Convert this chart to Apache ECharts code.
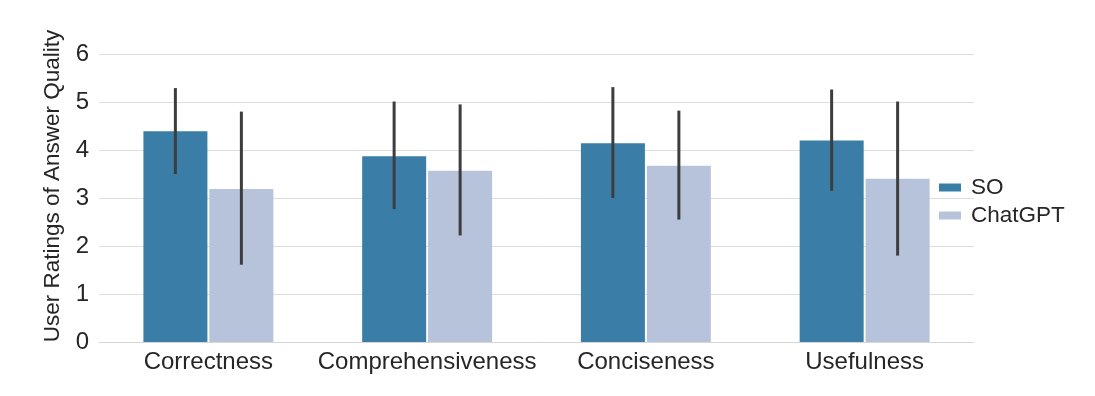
<!DOCTYPE html>
<html>
<head>
<meta charset="utf-8">
<script src="https://cdn.jsdelivr.net/npm/echarts@6/dist/echarts.min.js"></script>
<style>
  html, body { margin: 0; padding: 0; background: #fff; }
  #chart { width: 1095px; height: 396px; }
</style>
</head>
<body>
<div id="chart"></div>
<script>
// categories and values
const categories = ['Correctness', 'Comprehensiveness', 'Conciseness', 'Usefulness']
const soMean = [4.39, 3.87, 4.14, 4.20]
const soLow = [3.50, 2.77, 3.00, 3.15]
const soHigh = [5.29, 5.01, 5.31, 5.26]
const gptMean = [3.19, 3.57, 3.67, 3.40]
const gptLow = [1.61, 2.22, 2.55, 1.80]
const gptHigh = [4.80, 4.95, 4.82, 5.01]

const BAR_W = 64
const fontFamily = '"Liberation Sans", Arial, sans-serif'

// error bar rows: [categoryIndex, low, high]
const soErr = categories.map((c, i) => [i, soLow[i], soHigh[i]])
const gptErr = categories.map((c, i) => [i, gptLow[i], gptHigh[i]])

function errRender(offset) {
  return function (params, api) {
    const lo = api.coord([api.value(0), api.value(1)])
    const hi = api.coord([api.value(0), api.value(2)])
    const x = lo[0] + offset
    return {
      type: 'line',
      shape: { x1: x, y1: lo[1], x2: x, y2: hi[1] },
      style: { stroke: '#3d3d3d', lineWidth: 3 }
    }
  }
}

const chart = echarts.init(document.getElementById('chart'))
const option = {
  animation: false,
  textStyle: { fontFamily: fontFamily },
  grid: { left: 99, right: 121, top: 54, bottom: 54 },
  legend: {
    orient: 'vertical',
    left: 939,
    top: 176,
    padding: 0,
    itemWidth: 22,
    itemHeight: 8,
    itemGap: 5,
    icon: 'rect',
    textStyle: { fontSize: 22.5, color: '#262626', fontFamily: fontFamily, padding: [0, 0, 0, 5] },
    data: ['SO', 'ChatGPT']
  },
  xAxis: {
    type: 'category',
    data: categories,
    axisLine: { show: true, lineStyle: { color: '#d6d6d6', width: 1 } },
    axisTick: { show: false },
    axisLabel: { interval: 0, fontSize: 24, color: '#262626', margin: 8, fontFamily: fontFamily }
  },
  yAxis: {
    type: 'value',
    min: 0,
    max: 6,
    interval: 1,
    name: 'User Ratings of Answer Quality',
    nameLocation: 'middle',
    nameGap: 34,
    nameTextStyle: { fontSize: 22.5, color: '#262626', fontFamily: fontFamily, padding: [0, 0, 0, 24] },
    axisLine: { show: false },
    axisTick: { show: false },
    axisLabel: { fontSize: 24, color: '#262626', margin: 10, fontFamily: fontFamily },
    splitLine: { lineStyle: { color: '#dedede', width: 1 } }
  },
  series: [
    {
      name: 'SO',
      type: 'bar',
      data: soMean,
      barWidth: BAR_W,
      barGap: '3%',
      itemStyle: { color: '#3a7ea8' }
    },
    {
      name: 'ChatGPT',
      type: 'bar',
      data: gptMean,
      barWidth: BAR_W,
      barGap: '3%',
      itemStyle: { color: '#b7c3da' }
    },
    {
      type: 'custom',
      data: soErr,
      renderItem: errRender(-(BAR_W / 2 + 1)),
      z: 10,
      silent: true
    },
    {
      type: 'custom',
      data: gptErr,
      renderItem: errRender(BAR_W / 2 + 1),
      z: 10,
      silent: true
    }
  ]
}
chart.setOption(option)
</script>
</body>
</html>
